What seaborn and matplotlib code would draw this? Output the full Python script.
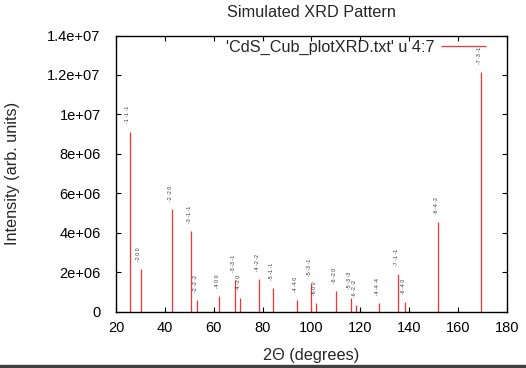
import matplotlib
matplotlib.use("Agg")
import matplotlib.pyplot as plt
import seaborn as sns
import pandas as pd

# peak positions (2theta), intensities and hkl labels
two_theta = [25.7, 30.1, 43.0, 50.8, 53.3, 62.3, 68.8, 70.9, 78.6, 84.4, 94.2,
             99.9, 102.0, 110.1, 116.3, 118.3, 127.7, 135.5, 138.4, 151.9, 169.5]
intensity = [9.12e6, 2.14e6, 5.18e6, 4.08e6, 0.58e6, 0.79e6, 1.58e6, 0.68e6,
             1.63e6, 1.19e6, 0.57e6, 1.39e6, 0.42e6, 1.04e6, 0.70e6, 0.33e6,
             0.43e6, 1.89e6, 0.47e6, 4.52e6, 1.215e7]
hkl = ["-1 -1 -1", "-2 0 0", "-2 -2 0", "-3 -1 -1", "-2 -2 -2", "-4 0 0",
       "-3 -3 -1", "-4 -2 0", "-4 -2 -2", "-5 -1 -1", "-4 -4 0", "-5 -3 -1",
       "-6 0 0", "-6 -2 0", "-5 -3 -3", "-6 -2 -2", "-4 -4 -4", "-7 -1 -1",
       "-6 -4 0", "-6 -4 -2", "-7 -3 -1"]
xticks = [20, 40, 60, 80, 100, 120, 140, 160, 180]
yticks = [0, 2e6, 4e6, 6e6, 8e6, 1e7, 1.2e7, 1.4e7]
ytick_labels = ["0", "2e+06", "4e+06", "6e+06", "8e+06", "1e+07", "1.2e+07", "1.4e+07"]

df = pd.DataFrame({"two_theta": two_theta, "intensity": intensity, "hkl": hkl})

sns.set_style("ticks")
plt.rcParams["font.family"] = ["Liberation Sans", "DejaVu Sans"]

fig = plt.figure(figsize=(5.26, 3.68), dpi=100)
ax = fig.add_axes([0.2205, 0.1535, 0.7434, 0.7500])

ax.vlines(df["two_theta"], 0, df["intensity"], color="#ff3030", lw=0.9,
          label="'CdS_Cub_plotXRD.txt' u 4:7")

for _, r in df.iterrows():
    ax.annotate(r["hkl"], (r["two_theta"], r["intensity"]), xytext=(-1.5, 6),
                textcoords="offset points", rotation=90, ha="center", va="bottom",
                fontsize=3.8, color="#333333")

ax.set_xlim(20, 180)
ax.set_ylim(0, 1.4e7)
ax.set_xticks(xticks)
ax.set_yticks(yticks)
ax.set_yticklabels(ytick_labels)
ax.tick_params(direction="in", top=True, right=True, length=3.8, width=0.8,
               labelsize=10.5, colors="black")
ax.tick_params(axis="x", pad=7)
ax.tick_params(axis="y", pad=11)
for s in ax.spines.values():
    s.set_linewidth(1.0)
    s.set_color("black")

ax.set_xlabel("2\u0398 (degrees)", fontsize=11.7, labelpad=9)
ax.set_ylabel("Intensity (arb. units)", fontsize=11.7, labelpad=20)
ax.set_title("Simulated XRD Pattern", fontsize=11.7, pad=13)

ax.legend(loc="upper right", bbox_to_anchor=(0.964, 1.007), frameon=False,
          markerfirst=False, fontsize=11.7, handlelength=2.8, borderaxespad=0,
          handletextpad=0.4)

fig.patches.append(plt.Rectangle((0, 0), 1, 3 / 368, transform=fig.transFigure,
                                 color="#404040", zorder=-1))

fig.savefig("out.png", dpi=100)
